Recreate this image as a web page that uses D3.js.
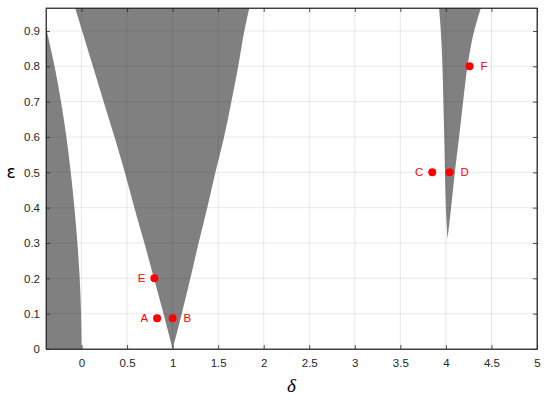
<!DOCTYPE html>
<html>
<head>
<meta charset="utf-8">
<script src="https://cdn.jsdelivr.net/npm/d3@7"></script>
<style>
  body{margin:0;background:#fff;}
  svg{display:block;font-family:"Liberation Sans",Arial,sans-serif;}
</style>
</head>
<body>
<script>
  // eps levels where the boundaries were read
  const epsLevels   = [0, 0.1, 0.2, 0.3, 0.4, 0.5, 0.6, 0.7, 0.8, 0.9, 0.965]
  // region left of delta=0
  const leftBoundary = [0, -0.005, -0.02, -0.045, -0.078, -0.118, -0.166, -0.225, -0.296, -0.38, -0.43]
  // tongue at delta=1
  const tongue1Left  = [1.0, 0.90, 0.795, 0.69, 0.58, 0.475, 0.362, 0.243, 0.125, 0.007, -0.07]
  const tongue1Right = [1.0, 1.10, 1.195, 1.285, 1.38, 1.47, 1.565, 1.645, 1.72, 1.787, 1.842]
  // tongue at delta=4
  const tongue2Eps   = [0.311, 0.4, 0.5, 0.6, 0.7, 0.8, 0.9, 0.965]
  const tongue2Left  = [4.017, 4.0, 3.99, 3.982, 3.972, 3.962, 3.944, 3.925]
  const tongue2Right = [4.017, 4.057, 4.098, 4.145, 4.189, 4.237, 4.31, 4.384]

  const pointNames = ["A","B","C","D","E","F"]
  const pointDelta = [0.83, 1.0, 3.85, 4.04, 0.80, 4.26]
  const pointEps   = [0.087, 0.087, 0.5, 0.5, 0.2, 0.8]
  const pointSide  = ["left","right","left","right","left","right"]

  const xTicks = [0,0.5,1,1.5,2,2.5,3,3.5,4,4.5,5]
  const yTicks = [0,0.1,0.2,0.3,0.4,0.5,0.6,0.7,0.8,0.9]

  const width = 550, height = 402
  const margin = {top:8, right:13, bottom:53, left:46}
  const axisColor = "#262626"

  let svg = d3.select("body").append("svg").attr("width",width).attr("height",height)
  let x = d3.scaleLinear().domain([-0.39,5]).range([margin.left,width-margin.right])
  let y = d3.scaleLinear().domain([0,0.965]).range([height-margin.bottom,margin.top])

  svg.append("clipPath").attr("id","plot")
    .append("rect")
    .attr("x",margin.left).attr("y",margin.top)
    .attr("width",width-margin.left-margin.right)
    .attr("height",height-margin.top-margin.bottom)

  let plot = svg.append("g").attr("clip-path","url(#plot)")

  let area = d3.area()
    .y(d=>y(d.eps)).x0(d=>x(d.l)).x1(d=>x(d.r))
    .curve(d3.curveMonotoneY)

  let leftData = epsLevels.map((e,i)=>({eps:e,l:-1,r:leftBoundary[i]}))
  let t1Data = epsLevels.map((e,i)=>({eps:e,l:tongue1Left[i],r:tongue1Right[i]}))
  let t2Data = tongue2Eps.map((e,i)=>({eps:e,l:tongue2Left[i],r:tongue2Right[i]}))

  plot.selectAll("path.region")
    .data([leftData,t1Data,t2Data])
    .join("path")
    .attr("class","region")
    .attr("d",area)
    .attr("fill","#808080")

  // grid on top of the patches
  let grid = svg.append("g").attr("stroke","rgba(38,38,38,0.13)").attr("stroke-width",0.8)
  grid.selectAll("line.gx").data(xTicks).join("line").attr("class","gx")
    .attr("x1",d=>x(d)).attr("x2",d=>x(d))
    .attr("y1",margin.top).attr("y2",height-margin.bottom)
  grid.selectAll("line.gy").data(yTicks).join("line").attr("class","gy")
    .attr("y1",d=>y(d)).attr("y2",d=>y(d))
    .attr("x1",margin.left).attr("x2",width-margin.right)

  // axes (ticks inward, box)
  let tl = 4
  svg.append("g").attr("transform",`translate(0,${height-margin.bottom})`)
    .call(d3.axisBottom(x).tickValues(xTicks).tickSizeInner(-tl).tickSizeOuter(0).tickPadding(10).tickFormat(d3.format("~g")))
  svg.append("g").attr("transform",`translate(0,${margin.top})`)
    .call(d3.axisTop(x).tickValues(xTicks).tickSizeInner(-tl).tickSizeOuter(0).tickFormat(""))
  svg.append("g").attr("transform",`translate(${margin.left},0)`)
    .call(d3.axisLeft(y).tickValues(yTicks).tickSizeInner(-tl).tickSizeOuter(0).tickPadding(6).tickFormat(d3.format("~g")))
  svg.append("g").attr("transform",`translate(${width-margin.right},0)`)
    .call(d3.axisRight(y).tickValues(yTicks).tickSizeInner(-tl).tickSizeOuter(0).tickFormat(""))

  svg.selectAll(".domain").attr("stroke",axisColor).attr("stroke-width",0.8)
  svg.selectAll(".tick line").attr("stroke",axisColor).attr("stroke-width",0.8)
  svg.selectAll(".tick text").attr("fill",axisColor).attr("font-size",11.5)
    .attr("font-family","'Liberation Sans',Arial,sans-serif")
  svg.append("rect")
    .attr("x",margin.left).attr("y",margin.top)
    .attr("width",width-margin.left-margin.right)
    .attr("height",height-margin.top-margin.bottom)
    .attr("fill","none").attr("stroke",axisColor).attr("stroke-width",0.8)

  // axis labels
  svg.append("text")
    .attr("x",11).attr("y",y(0.5)+6)
    .attr("text-anchor","middle")
    .attr("font-size",17).attr("fill","#000")
    .attr("font-family","'DejaVu Sans',sans-serif")
    .text("ε")
  svg.append("text")
    .attr("x",(margin.left+width-margin.right)/2).attr("y",392)
    .attr("text-anchor","middle")
    .attr("font-size",19).attr("font-style","italic").attr("fill","#000")
    .attr("font-family","'Liberation Serif','Times New Roman',serif")
    .text("δ")

  // points
  let pts = pointNames.map((n,i)=>({name:n,d:pointDelta[i],e:pointEps[i],side:pointSide[i]}))
  let pg = svg.append("g").selectAll("g").data(pts).join("g")
    .attr("transform",d=>`translate(${x(d.d)},${y(d.e)})`)
  pg.append("circle").attr("r",4).attr("fill","#ff0000")
  pg.append("text")
    .attr("x",d=>d.side==="left"?-9:11)
    .attr("y",4)
    .attr("text-anchor",d=>d.side==="left"?"end":"start")
    .attr("font-size",11.5).attr("fill","#ff0000")
    .text(d=>d.name)
</script>
</body>
</html>
